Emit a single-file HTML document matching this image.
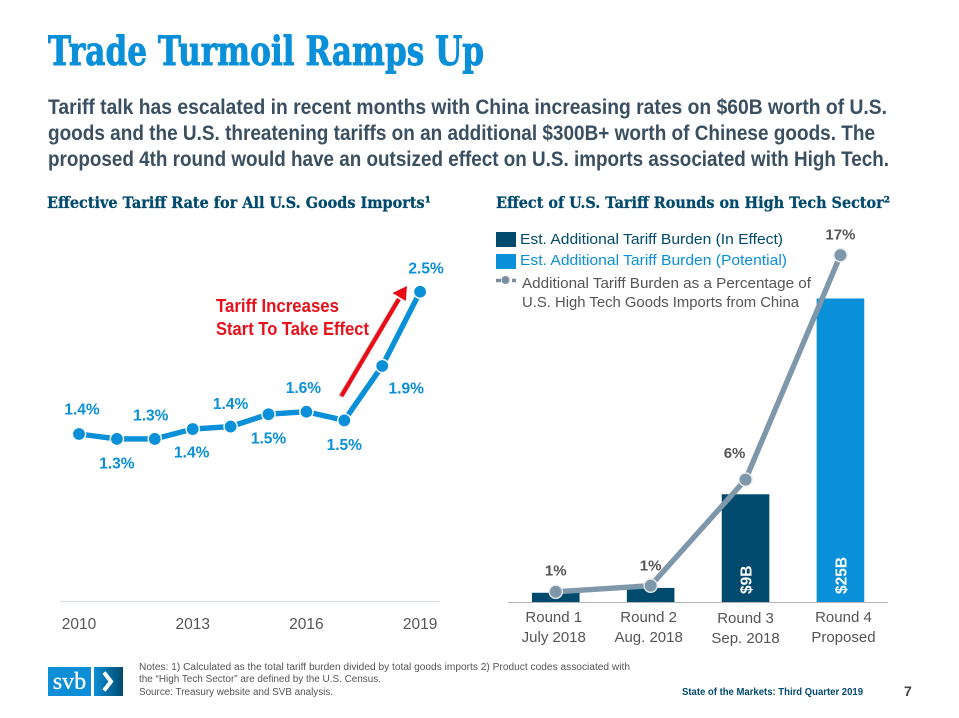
<!DOCTYPE html>
<html lang="en">
<head>
<meta charset="utf-8">
<title>Trade Turmoil Ramps Up</title>
<style>
html,body{margin:0;padding:0;background:#fff;width:959px;height:718px;overflow:hidden}
svg{display:block;filter:blur(0.3px)}
text{font-family:"Liberation Sans",sans-serif}
.slab{font-family:"DejaVu Serif","Liberation Serif",serif;font-weight:700}
.sub{font-size:21px;font-weight:700;fill:#3a4f61}
.sec{font-size:16px;fill:#004a6e;stroke:#004a6e;stroke-width:.3px}
.leg{font-size:15px}
.note{font-size:10px;fill:#555}
</style>
</head>
<body>
<svg id="slide" xmlns="http://www.w3.org/2000/svg" width="959" height="718" viewBox="0 0 959 718">
  <defs>
    <linearGradient id="logoGrad" x1="0" x2="1" y1="0" y2="0">
      <stop offset="0" stop-color="#0d8ed6"/>
      <stop offset="1" stop-color="#004a6e"/>
    </linearGradient>
  </defs>
  <rect width="959" height="718" fill="#fff"/>

  <text class="slab" x="48" y="65" font-size="40" fill="#0a8fd9" stroke="#0a8fd9" stroke-width="0.9" textLength="436" lengthAdjust="spacingAndGlyphs">Trade Turmoil Ramps Up</text>

  <g>
    <text class="sub" x="48" y="114" textLength="839" lengthAdjust="spacingAndGlyphs">Tariff talk has escalated in recent months with China increasing rates on $60B worth of U.S.</text>
    <text class="sub" x="48" y="140" textLength="827" lengthAdjust="spacingAndGlyphs">goods and the U.S. threatening tariffs on an additional $300B+ worth of Chinese goods. The</text>
    <text class="sub" x="48" y="166" textLength="841" lengthAdjust="spacingAndGlyphs">proposed 4th round would have an outsized effect on U.S. imports associated with High Tech.</text>
  </g>

  <text class="slab sec" x="47" y="208" textLength="384" lengthAdjust="spacingAndGlyphs">Effective Tariff Rate for All U.S. Goods Imports¹</text>
  <text class="slab sec" x="496" y="208" textLength="394" lengthAdjust="spacingAndGlyphs">Effect of U.S. Tariff Rounds on High Tech Sector²</text>

  <g id="leftChart">
    <line x1="60" x2="440" y1="601.5" y2="601.5" stroke="#dcdfe2" stroke-width="1.2"/>
  </g>

  <g>
    <text x="216" y="312" font-size="18" font-weight="700" fill="#e8101a" textLength="123" lengthAdjust="spacingAndGlyphs">Tariff Increases</text>
    <text x="216" y="335" font-size="18" font-weight="700" fill="#e8101a" textLength="153" lengthAdjust="spacingAndGlyphs">Start To Take Effect</text>
    <line x1="341.5" y1="396" x2="399" y2="299" stroke="#c9c9c9" stroke-width="4.4" transform="translate(-1.5,1)"/>
    <line x1="341.5" y1="396" x2="399" y2="299" stroke="#ea0d16" stroke-width="4.2"/>
    <polygon points="407,286 405.8,301 392.5,293" fill="#ea0d16"/>
  </g>

  <g id="rightChart"></g>

  <g>
    <rect x="496" y="232" width="20" height="15" fill="#004a6e"/>
    <text class="leg" x="520" y="244" fill="#004a6e" textLength="263" lengthAdjust="spacingAndGlyphs">Est. Additional Tariff Burden (In Effect)</text>
    <rect x="496" y="254" width="20" height="15" fill="#0a8fd9"/>
    <text class="leg" x="520" y="265" fill="#0a8fd9" textLength="267" lengthAdjust="spacingAndGlyphs">Est. Additional Tariff Burden (Potential)</text>
    <line x1="496" x2="516" y1="280.5" y2="280.5" stroke="#7d8f9e" stroke-width="3.5" stroke-dasharray="5 3"/>
    <circle cx="505.5" cy="280" r="4" fill="#7d8f9e"/>
    <text class="leg" x="522" y="288" fill="#555" textLength="289" lengthAdjust="spacingAndGlyphs">Additional Tariff Burden as a Percentage of</text>
    <text class="leg" x="522" y="307" fill="#555" textLength="277" lengthAdjust="spacingAndGlyphs">U.S. High Tech Goods Imports from China</text>
  </g>

  <g>
    <rect x="48" y="667" width="43" height="29" fill="#0d8ed6"/>
    <text x="69.5" y="689" text-anchor="middle" font-size="24" fill="#fff" stroke="#fff" stroke-width="0.3" style="font-family:'Liberation Serif',serif">svb</text>
    <rect x="94" y="667" width="29" height="29" fill="url(#logoGrad)"/>
    <polyline points="104,672.5 111,681.5 104,690.5" fill="none" stroke="#fff" stroke-width="4"/>
  </g>

  <g>
    <text class="note" x="139" y="670" textLength="491" lengthAdjust="spacingAndGlyphs">Notes: 1) Calculated as the total tariff burden divided by total goods imports 2) Product codes associated with</text>
    <text class="note" x="139" y="682" textLength="242" lengthAdjust="spacingAndGlyphs">the “High Tech Sector” are defined by the U.S. Census.</text>
    <text class="note" x="139" y="695" textLength="194" lengthAdjust="spacingAndGlyphs">Source: Treasury website and SVB analysis.</text>
  </g>
  <text x="682" y="695" font-size="10" font-weight="700" fill="#004a6e" textLength="181" lengthAdjust="spacingAndGlyphs">State of the Markets: Third Quarter 2019</text>
  <text x="904" y="696" font-size="14" font-weight="700" fill="#444">7</text>
</svg>

<script>
// Left chart data
const years = [2010, 2011, 2012, 2013, 2014, 2015, 2016, 2017, 2018, 2019];
const tariffRates = [1.35, 1.31, 1.31, 1.39, 1.41, 1.51, 1.53, 1.46, 1.9, 2.5];
const tariffLabels = ['1.4%', '1.3%', '1.3%', '1.4%', '1.4%', '1.5%', '1.6%', '1.5%', '1.9%', '2.5%'];
const yearTicks = [2010, 2013, 2016, 2019];

// Right chart data
const rounds = ['Round 1', 'Round 2', 'Round 3', 'Round 4'];
const roundDates = ['July 2018', 'Aug. 2018', 'Sep. 2018', 'Proposed'];
const burdenBillions = [0.8, 1.2, 8.9, 25];
const burdenStatus = ['effect', 'effect', 'effect', 'potential'];
const burdenLabels = ['', '', '$9B', '$25B'];
const sharePercent = [0.5, 0.8, 6, 17];
const shareLabels = ['1%', '1%', '6%', '17%'];

const NS = 'http://www.w3.org/2000/svg';
function make(parent, tag) {
  const el = document.createElementNS(NS, tag);
  parent.appendChild(el);
  return el;
}
function set(el, props) {
  Object.keys(props).forEach(function (k) { el.setAttribute(k, props[k]); });
  return el;
}

// Left chart axis functions
const leftG = document.getElementById('leftChart');
function xYear(y) { return 79 + (y - 2010) * 37.9; }
function yRate(v) { return 601 - v * 123.7; }
// label nudges relative to the point: [dx, centre dy]
const rateLabelNudge = [[3, -25], [0, 24], [-4, -24], [-1, 23], [0, -23], [0, 24], [-3, -24], [0, 24], [24, 22], [6, -24]];

const linePts = tariffRates.map(function (v, i) { return xYear(years[i]) + ',' + yRate(v); }).join(' ');
const rateLine = make(leftG, 'polyline');


set(rateLine, { points: linePts, fill: 'none', stroke: '#0a8fd9', 'stroke-width': 5.4 });

tariffRates.forEach(function (v, i) {
  const cx = xYear(years[i]);
  const cy = yRate(v);
  const dot = make(leftG, 'circle');
  
  
  set(dot, { cx: cx, cy: cy, r: 6.6, fill: '#0a8fd9', stroke: '#fff', 'stroke-width': 1.4 });
  const lab = make(leftG, 'text');
  
  
  set(lab, { x: cx + rateLabelNudge[i][0], y: cy + rateLabelNudge[i][1] + 5.5, 'text-anchor': 'middle', 'font-size': 15.5, 'font-weight': 700, fill: '#0a8fd9' });
  lab.textContent = tariffLabels[i];
});

yearTicks.forEach(function (y) {
  const t = make(leftG, 'text');
  
  
  set(t, { x: xYear(y), y: 629, 'text-anchor': 'middle', 'font-size': 15.5, fill: '#555' });
  t.textContent = y;
});

// Right chart axis functions
const rightG = document.getElementById('rightChart');
const baseY = 602.5;
function xRound(i) { return 555.75 + i * 94.9; }
function hBar(v) { return v * 12.16; }
function yShare(p) { return 602 - p * 20.4; }
const barW = 47.6;
const shareLabelNudge = [[0, -22], [0, -20.5], [-11, -27], [0, -21]];
const catCentre = [-2, -2, 0, 3];
const catDrop = [0, 0, 1, 0];

burdenBillions.forEach(function (v, i) {
  const h = hBar(v);
  const bar = make(rightG, 'rect');
  
  
  set(bar, { x: xRound(i) - barW / 2, y: baseY - h, width: barW, height: h, fill: burdenStatus[i] === 'effect' ? '#004a6e' : '#0a8fd9' });
  if (burdenLabels[i]) {
    const bl = make(rightG, 'text');
    
    
    const bx = xRound(i) + 6;
    set(bl, { x: bx, y: 594, 'font-size': 15.5, 'font-weight': 700, fill: '#fff', transform: 'rotate(-90 ' + bx + ' 594)' });
    bl.textContent = burdenLabels[i];
  }
  const c1 = make(rightG, 'text');
  
  
  set(c1, { x: xRound(i) + catCentre[i], y: 622 + catDrop[i], 'text-anchor': 'middle', 'font-size': 15, fill: '#555' });
  c1.textContent = rounds[i];
  const c2 = make(rightG, 'text');
  
  
  set(c2, { x: xRound(i) + catCentre[i], y: 642 + catDrop[i], 'text-anchor': 'middle', 'font-size': 15, fill: '#555' });
  c2.textContent = roundDates[i];
});

const axisR = make(rightG, 'line');


set(axisR, { x1: 508, x2: 888, y1: 602.5, y2: 602.5, stroke: '#b4b4b4', 'stroke-width': 1 });

const sharePts = sharePercent.map(function (p, i) { return xRound(i) + ',' + yShare(p); }).join(' ');
const shareLine = make(rightG, 'polyline');


set(shareLine, { points: sharePts, fill: 'none', stroke: '#7f97ab', 'stroke-width': 5.4 });

sharePercent.forEach(function (p, i) {
  const cx = xRound(i);
  const cy = yShare(p);
  const dot = make(rightG, 'circle');
  
  
  set(dot, { cx: cx, cy: cy, r: 6.6, fill: '#7f97ab', stroke: '#e6eaee', 'stroke-width': 1.4 });
  const lab = make(rightG, 'text');
  
  
  set(lab, { x: cx + shareLabelNudge[i][0], y: cy + shareLabelNudge[i][1] + 5.5, 'text-anchor': 'middle', 'font-size': 15, 'font-weight': 700, fill: '#555' });
  lab.textContent = shareLabels[i];
});
</script>
</body>
</html>
